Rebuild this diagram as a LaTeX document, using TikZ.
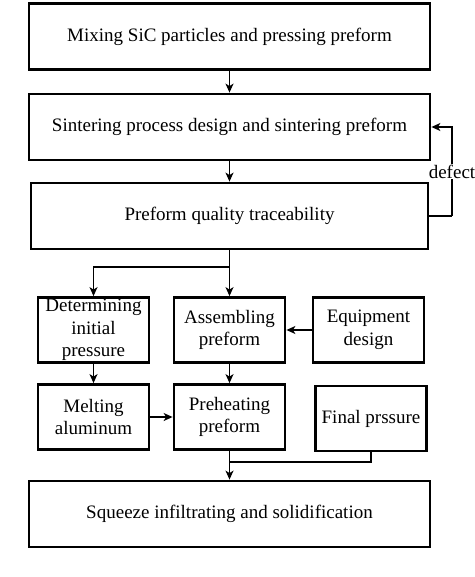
\documentclass[tikz,border=0pt]{standalone}
\usepackage{fontspec}
\setmainfont{Liberation Serif}
\usetikzlibrary{arrows.meta}

\begin{document}
\begin{tikzpicture}
        [x=1pt, y=-1pt,
        box/.style={rectangle, draw, line width=2.8pt, align=center, inner sep=0pt,
            font=\fontsize{19}{22.5}\selectfont},
        wide/.style={box, minimum width=401pt, minimum height=66pt},
        small/.style={box, minimum width=111pt, minimum height=65pt},
        edge/.style={line width=1.3pt, black},
        arrow/.style={edge, -{Stealth[length=9pt, width=8pt, inset=2.5pt]}},
        tag/.style={fill=white, inner sep=1pt, font=\fontsize{19}{22}\selectfont}]

        \useasboundingbox (0,0) rectangle (474,577);

        \node[wide] (mix) at (229.5, 36.5) {Mixing SiC particles and pressing preform};
        \node[wide] (sinter) at (229.5, 127) {Sintering process design and sintering preform};
        \node[wide, minimum width=397pt] (trace) at (229.5, 216) {Preform quality traceability};

        \node[small] (det) at (93.5, 330) {Determining\\initial\\pressure};
        \node[small] (asm) at (229.5, 330) {Assembling\\preform};
        \node[small] (equip) at (368.5, 330) {Equipment\\design};

        \node[small] (melt) at (93.5, 417) {Melting\\aluminum};
        \node[small] (preheat) at (229.5, 417) {Preheating\\preform};
        \node[small] (final) at (371, 418.5) {Final prssure};

        \node[wide] (squeeze) at (229.5, 514) {Squeeze infiltrating and solidification};

        \coordinate (split) at (229.5, 267);
        \coordinate (back) at (452, 216);
        \coordinate (merge) at (229.5, 462);

        % main line
        \draw[arrow] (mix) -- (sinter);
        \draw[arrow] (sinter) -- (trace);
        \draw[arrow] (trace) -- (asm);
        \draw[arrow] (split) -| (det.north);

        % defect loop
        \draw[edge] (trace.east) -- (back);
        \draw[arrow] (back) |- node[tag, pos=0.25] {defect} (sinter.east);

        % lower boxes
        \draw[arrow] (equip) -- (asm);
        \draw[arrow] (det) -- (melt);
        \draw[arrow] (asm) -- (preheat);
        \draw[arrow] (melt) -- (preheat);
        \draw[edge] (final.south) |- (merge);
        \draw[arrow] (preheat) -- (squeeze);

    \end{tikzpicture}
\end{document}
